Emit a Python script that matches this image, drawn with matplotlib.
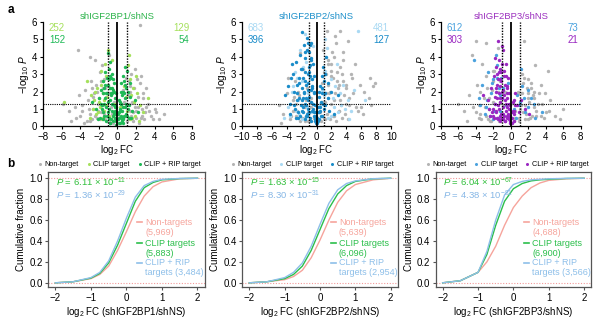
import matplotlib
matplotlib.use("Agg")
import matplotlib.pyplot as plt

plt.rcParams['font.family'] = ['Liberation Sans', 'DejaVu Sans']
plt.rcParams['mathtext.fontset'] = 'custom'
plt.rcParams['mathtext.rm'] = 'Liberation Sans'
plt.rcParams['mathtext.it'] = 'Liberation Sans:italic'
plt.rcParams['mathtext.bf'] = 'Liberation Sans:bold'

knockdowns = ['shIGF2BP1/shNS', 'shIGF2BP2/shNS', 'shIGF2BP3/shNS']
volcano_xlims = [8, 10, 8]

# volcano plot points: log2 FC, -log10 P
grey_x = [
    [-5.8, -5.2, -4.6, -4.1, -3.8, -3.5, -3.2, -3.0, -2.8, -2.6, -2.5, -2.3, -2.2, -2.0, -1.9, -1.8, -1.6, -1.5,
     -1.4, -1.3, -1.2, -1.7, -2.1, -2.7, -3.3, -4.0, -1.1, -0.8, -0.6, -0.4, 0.4, 0.6, 0.8, 1.1, 1.2, 1.3, 1.5,
     1.6, 1.8, 2.0, 2.2, 2.4, 2.6, 2.8, 3.0, 3.3, 3.6, 4.0, 4.5, 5.0, 1.4, 1.9, 2.5, 3.1, 1.7, 2.3, -1.6, -2.4,
     -3.6, 0.9, -0.9, 2.4, -4.2, -3.0,
     -2.9, -2.4, -1.9, -1.4, -0.9, -0.5, 0.5, 1.0, 1.5, 2.0, 2.5, 2.9, -2.6, -2.1, -1.6, -1.1, -0.7, 0.7, 1.2,
     1.7, 2.2, 2.7, -3.1, -2.2, -1.3, 1.3, 2.1, 3.4, -3.8, 3.8, -2.7, -1.8, 1.9, 2.6, -0.3, 0.3, -4.4, 4.2, -5.0,
     3.1],
    [-5.0, -4.5, -4.0, -3.6, -3.2, -2.9, -2.6, -2.3, -2.0, -1.8, -1.5, -1.3, -3.8, -2.2, -1.6, -4.8, -2.7, -1.1,
     -0.7, -0.4, 0.5, 0.8, 1.2, 1.5, 1.8, 2.1, 2.4, 2.7, 3.0, 3.3, 3.6, 4.0, 4.4, 4.8, 5.3, 5.8, 6.4, 7.0, 7.6,
     1.4, 1.9, 2.6, 3.2, 3.9, 4.6, 5.5, 1.1, 1.7, 2.3, 2.9, 3.5, 4.2, 0.9, 2.0, 3.0, 6.2, 7.3, -3.4, 1.3, 2.5,
     3.2, 7.2, 7.8,
     0.6, 1.0, 1.4, 1.8, 2.2, 2.6, 3.0, 3.4, 3.8, 4.2, 0.7, 1.3, 1.9, 2.5, 3.1, 3.7, 4.3, 4.9, 1.6, 2.2, 2.8,
     3.4, 4.0, 1.0, 1.5, 2.0, -1.2, -1.7, -2.2, -2.7, -3.2, -1.4, -2.0, -2.5, -3.0, -0.8, 5.2, 6.0, 2.4, 3.6],
    [-6.0, -5.4, -4.8, -4.3, -3.9, -3.5, -3.1, -2.8, -2.5, -2.2, -1.9, -1.6, -1.3, -3.3, -2.6, -4.5, -2.0, -1.1,
     -0.7, -5.0, -3.7, 0.5, 0.8, 1.1, 1.4, 1.7, 2.0, 2.3, 2.6, 2.9, 3.2, 3.6, 4.0, 4.5, 5.0, 5.6, 1.3, 1.9, 2.5,
     3.4, 4.2, 0.9, 1.6, 2.2, 2.8, -2.9, -3.6, -1.5, 6.0, 3.8, -2.3, 1.5, -4.0,
     -3.4, -2.9, -2.4, -1.9, -1.4, -0.9, 0.4, 0.9, 1.4, 1.9, 2.4, 2.9, 3.4, 0.6, 1.1, 1.6, 2.1, 2.6, 3.1, 0.8,
     1.3, 1.8, 2.3, -3.0, -2.5, -2.0, -1.5, -3.5, -2.7, -2.1, 1.5, 2.0, 2.7, -4.0, 3.9, -1.2, 0.5, 1.0, -0.8,
     4.4],
]
grey_y = [
    [1.3, 0.9, 1.1, 1.8, 1.2, 2.1, 1.5, 0.7, 2.6, 1.0, 1.9, 2.4, 0.5, 1.6, 3.1, 0.8, 2.2, 1.2, 2.7, 0.4, 1.7, 3.5,
     0.9, 0.4, 0.3, 0.6, 2.3, 1.9, 0.7, 1.4, 1.1, 2.1, 0.6, 1.8, 2.6, 0.9, 3.0, 1.4, 2.2, 0.5, 1.7, 2.5, 1.0, 1.6,
     0.8, 1.3, 0.6, 1.0, 0.4, 0.7, 2.0, 3.3, 2.9, 2.2, 0.3, 0.2, 0.5, 3.8, 0.2, 2.8, 4.1, 5.8, 4.4, 4.0,
     0.3, 0.6, 0.4, 0.7, 0.3, 0.2, 0.4, 0.3, 0.6, 0.9, 0.5, 0.4, 1.7, 1.3, 1.9, 1.2, 1.1, 1.4, 1.3, 0.8, 1.1,
     1.9, 1.0, 2.0, 2.2, 2.3, 2.7, 0.9, 0.9, 0.4, 2.2, 2.6, 1.1, 0.6, 0.4, 0.6, 0.5, 0.8, 0.3, 1.1],
    [1.2, 0.7, 1.9, 0.4, 1.5, 2.6, 0.9, 1.8, 0.5, 3.3, 1.1, 2.2, 2.8, 4.2, 0.3, 0.2, 1.3, 0.8, 1.6, 0.5, 0.8, 2.5,
     1.4, 3.6, 2.0, 4.3, 1.5, 3.1, 2.4, 1.2, 3.8, 2.2, 1.6, 2.8, 1.1, 2.4, 2.0, 1.6, 2.3, 5.5, 2.9, 4.8, 3.4, 1.3,
     3.0, 0.9, 0.4, 1.9, 0.6, 2.2, 2.6, 4.9, 4.4, 3.2, 0.9, 0.7, 1.2, 0.6, 3.0, 5.2, 5.5, 2.8, 2.5,
     0.3, 0.5, 0.7, 0.4, 0.6, 0.3, 0.9, 0.5, 0.7, 0.4, 1.4, 1.9, 1.3, 1.9, 1.5, 1.8, 1.2, 1.9, 2.4, 2.8, 2.6,
     3.0, 2.4, 3.1, 3.8, 3.6, 0.3, 0.5, 0.3, 0.6, 0.9, 1.5, 1.2, 2.0, 1.7, 1.1, 3.6, 1.1, 4.0, 4.3],
    [1.3, 0.9, 1.8, 1.1, 2.4, 0.7, 1.6, 2.9, 1.0, 2.1, 3.2, 0.5, 1.4, 3.6, 0.4, 4.1, 2.6, 0.8, 2.0, 0.3, 0.5, 0.9,
     1.9, 1.2, 2.5, 0.7, 1.6, 2.2, 1.1, 0.6, 1.9, 1.3, 0.8, 1.5, 0.6, 0.4, 3.0, 2.7, 1.8, 2.4, 3.2, 0.3, 0.4, 0.5,
     3.5, 4.8, 1.2, 4.5, 1.0, 0.5, 0.3, 4.9, 4.9,
     0.4, 0.6, 0.3, 0.5, 0.3, 0.4, 0.3, 0.5, 0.8, 0.4, 0.6, 0.9, 0.6, 1.2, 1.5, 1.2, 1.4, 1.6, 1.3, 2.0, 1.9,
     2.2, 2.5, 1.1, 1.6, 1.4, 2.0, 2.0, 2.2, 3.2, 2.8, 1.9, 2.0, 0.8, 1.9, 2.6, 0.5, 1.0, 1.2, 0.9],
]
clip_x = [
    [-3.3, -2.8, -2.5, -2.2, -2.0, -1.8, -1.6, -1.5, -1.3, -1.2, -1.1, -1.9, -2.3, -1.4, -0.8, -0.6, -0.5, -0.3,
     0.3, 0.5, 0.7, 1.1, 1.3, 1.5, 1.8, 2.1, 2.4, 2.8, 3.3, 1.2, 1.6, -1.7, -2.6, -5.7, -1.0, 0.9, 2.0,
     -2.1, -1.6, -1.2, -0.9, 1.0, 1.4, 1.9, -2.4, -1.8, -1.4, 1.7, 2.3, -3.0, -0.7],
    [-3.8, -3.3, -2.9, -2.5, -2.2, -1.9, -1.6, -1.4, -1.2, -2.7, -1.8, -3.1, -0.8, -0.5, 0.5, 0.8, 1.2, 1.5, 1.9,
     2.3, 2.7, 3.1, 3.6, 4.2, 5.0, 5.6, 1.4, 2.0, 2.5, 3.3, -1.5, -2.4, 1.1, -4.3, 4.6,
     -2.0, -1.3, -0.9, 1.6, 2.2, 2.9, 3.8, 4.4, -3.5, -2.6, 1.0, 6.5],
    [-4.2, -3.7, -3.3, -2.9, -2.6, -2.3, -2.0, -1.8, -1.6, -1.4, -1.2, -1.0, -2.4, -3.0, -1.7, -1.1, -0.6, -0.3,
     0.4, 0.7, 1.0, 1.3, 1.6, 1.9, 2.3, 2.8, 3.6, 1.2, -2.1, -1.5,
     -2.7, -2.2, -1.9, -1.3, -0.9, 0.6, 0.9, 1.5, 2.0, 2.6, -3.5, -1.6],
]
clip_y = [
    [2.6, 1.8, 1.5, 2.2, 1.4, 3.2, 2.6, 1.9, 3.6, 2.9, 1.7, 1.1, 0.7, 0.9, 2.2, 3.8, 0.6, 1.3, 1.1, 0.5, 2.3, 3.5,
     2.7, 1.8, 1.4, 1.9, 1.2, 0.8, 1.6, 4.1, 0.5, 0.4, 1.0, 1.4, 4.4, 1.7, 2.9,
     0.8, 0.5, 1.2, 0.6, 0.9, 0.4, 0.6, 2.0, 2.4, 1.5, 2.2, 0.3, 0.5, 0.4],
    [1.1, 2.0, 3.1, 1.5, 4.4, 2.6, 5.3, 3.7, 1.9, 0.9, 3.4, 2.3, 0.8, 4.6, 1.3, 2.1, 3.2, 1.6, 2.7, 1.1, 3.6, 1.9,
     2.4, 1.5, 2.1, 5.5, 4.5, 0.6, 2.3, 1.2, 0.5, 0.7, 5.0, 0.5, 0.9,
     0.4, 1.1, 2.7, 0.5, 1.6, 0.8, 1.0, 0.4, 0.6, 2.8, 1.8, 1.5],
    [3.8, 1.6, 2.4, 1.1, 3.1, 1.9, 2.7, 1.3, 3.5, 2.2, 0.9, 1.6, 0.6, 0.7, 4.1, 2.8, 1.2, 2.5, 1.0, 1.8, 1.4, 2.3,
     0.8, 1.1, 1.6, 0.5, 0.8, 3.3, 0.4, 0.5,
     1.5, 2.5, 0.9, 1.8, 2.2, 0.5, 1.2, 1.6, 2.1, 1.3, 1.2, 2.8],
]
rip_x = [
    [-2.3, -2.0, -1.8, -1.6, -1.5, -1.4, -1.3, -1.2, -1.1, -1.0, -0.9, -0.8, -0.7, -0.6, -0.5, -0.4, -0.3, -0.2,
     -0.1, 0.1, 0.2, 0.3, 0.4, 0.5, 0.6, 0.7, 0.8, 0.9, 1.0, 1.1, 1.2, 1.4, 1.6, 1.9, -1.2, -0.9, -0.7, -0.5,
     -0.3, -0.8, -0.6, -0.4, -1.0, -1.5, -0.2, 0.3, 0.5, 0.7, 0.9, 0.4, 0.6, 0.8, 1.2, -0.15, 0.15, -0.45, 0.45,
     -0.25, 0.25, -0.65, 0.65, -1.05, -1.7, -0.85, -0.55, -0.35, 0.35, 0.55, 0.85, 1.3, -2.7, 2.2, -1.3, -0.95,
     -0.75,
     -1.9, -1.7, -1.4, -1.2, -1.0, -0.8, -0.6, -0.4, -0.2, 0.2, 0.4, 0.6, 0.8, 1.0, -1.6, -1.3, -1.1, -0.9, -0.7,
     -0.5, -0.3, -0.1, 0.1, 0.3, 0.5, 0.7, 0.9, 1.1, -1.4, -1.1, -0.8, -0.6, -0.4, -0.2, 0.2, 0.4, 0.6, -2.1,
     -1.8, 1.5],
    [-4.2, -3.8, -3.5, -3.2, -3.0, -2.8, -2.6, -2.4, -2.2, -2.0, -1.9, -1.8, -1.7, -1.6, -1.5, -1.4, -1.3, -1.2,
     -1.1, -1.0, -0.9, -0.8, -0.7, -0.6, -0.5, -0.4, -0.3, -0.2, -0.1, 0.1, 0.2, 0.3, 0.4, 0.5, 0.6, 0.7, 0.8, 0.9,
     1.0, 1.1, 1.3, 1.5, 1.7, 2.0, 2.4, -3.6, -2.9, -2.5, -2.1, -1.75, -1.45, -1.15, -0.85, -0.55, -0.25, -2.3,
     -1.95, -1.65, -1.35, -1.05, -0.75, -0.45, -0.15, 0.25, 0.45, 0.65, 0.85, 1.2, -1.25, -0.95, -0.65, -0.35,
     -1.55, -2.65, -3.3, 1.6, 2.9, -0.05, 0.05, 0.35, -1.85,
     -2.8, -2.5, -2.2, -1.9, -1.6, -1.3, -1.0, -0.7, -0.4, -2.6, -2.3, -2.0, -1.7, -1.4, -1.1, -0.8, -0.5, -0.2,
     -2.1, -1.8, -1.5, -1.2, -0.9, -0.6, -0.3, -1.6, -1.3, -1.0, -0.7, -1.2, -0.9, 0.2, 0.5, 0.8, 1.1, 0.4, 0.7,
     1.0, -3.0, -3.4],
    [-2.6, -2.3, -2.1, -1.9, -1.8, -1.7, -1.6, -1.5, -1.4, -1.3, -1.2, -1.1, -1.0, -0.9, -0.8, -0.7, -0.6, -0.5,
     -0.4, -0.3, -0.2, -0.1, 0.1, 0.2, 0.3, 0.4, 0.5, 0.7, 0.9, 1.2, 1.6, -2.0, -1.75, -1.55, -1.35, -1.15,
     -0.95, -0.75, -0.55, -0.35, -0.15, -1.85, -1.45, -1.05, -0.65, -0.25, -1.25, -0.85, -0.45, 0.15, 0.35, -2.4,
     -3.2, -1.65, -0.05, 0.05, 2.1, -1.0,
     -1.9, -1.7, -1.5, -1.3, -1.1, -0.9, -0.7, -0.5, -0.3, -1.8, -1.6, -1.4, -1.2, -1.0, -0.8, -0.6, -0.4, -0.2,
     -1.5, -1.3, -1.1, -0.9, -0.7, -0.5, -1.6, -1.2, -0.8, -0.6, -1.0, -1.4, 0.1, 0.3, 0.5, 0.2, -2.2, -2.5,
     -0.4, -0.2, -0.1, -1.7],
]
rip_y = [
    [1.0, 1.6, 2.1, 0.8, 2.6, 1.3, 3.1, 1.9, 0.6, 2.4, 3.3, 1.5, 2.8, 0.9, 2.1, 1.2, 0.5, 1.1, 0.3, 0.4, 0.8, 1.4,
     0.6, 1.8, 1.1, 2.6, 1.6, 0.7, 3.2, 2.0, 1.2, 1.7, 0.9, 1.5, 0.3, 0.5, 0.4, 0.3, 1.6, 3.7, 3.0, 2.5, 1.4, 0.4,
     0.7, 0.2, 0.9, 0.6, 2.2, 2.0, 2.9, 3.4, 0.5, 0.1, 0.2, 0.6, 0.3, 0.9, 1.0, 1.8, 0.5, 4.2, 1.2, 2.2, 1.3, 0.8,
     1.3, 0.2, 1.1, 2.5, 1.4, 0.8, 2.4, 1.0, 0.2,
     0.5, 1.0, 0.6, 1.1, 0.8, 0.2, 1.9, 0.7, 0.4, 0.5, 1.3, 0.4, 2.4, 0.6, 1.9, 1.6, 2.8, 2.7, 1.9, 2.7, 1.1, 0.8,
     0.7, 0.9, 0.4, 1.9, 1.3, 1.0, 2.2, 1.9, 2.9, 2.2, 2.0, 1.9, 1.5, 2.5, 2.0, 0.4, 1.3, 0.5],
    [1.8, 2.3, 1.3, 3.0, 2.0, 3.7, 1.5, 2.8, 4.1, 2.2, 3.3, 1.1, 4.7, 2.6, 3.9, 1.6, 5.1, 3.0, 2.1, 4.3, 3.5, 1.4,
     4.8, 2.7, 3.6, 1.9, 2.9, 1.2, 0.6, 0.5, 1.1, 1.7, 0.8, 2.3, 1.4, 2.9, 1.9, 3.4, 2.6, 1.2, 4.0, 1.6, 0.9, 2.0,
     0.7, 0.7, 1.0, 0.5, 1.2, 0.8, 0.6, 1.0, 0.5, 0.9, 0.4, 2.5, 5.4, 2.0, 2.4, 3.1, 3.8, 1.0, 0.3, 0.3, 0.9, 0.6,
     1.3, 3.0, 0.7, 1.7, 2.2, 0.8, 1.3, 2.4, 3.6, 2.5, 1.8, 0.2, 0.2, 0.4, 1.6,
     0.5, 0.8, 0.6, 0.9, 0.4, 0.6, 0.8, 0.3, 0.6, 1.9, 1.6, 1.5, 1.9, 1.2, 1.5, 2.1, 1.3, 0.8, 3.3, 2.8, 3.1, 2.5,
     2.9, 2.3, 2.0, 4.3, 4.4, 3.4, 3.9, 4.8, 4.7, 0.8, 1.1, 0.6, 1.9, 2.0, 2.2, 1.0, 1.2, 2.8],
    [1.5, 2.2, 1.0, 2.9, 1.7, 3.4, 2.4, 1.2, 3.8, 2.7, 1.6, 3.1, 2.0, 4.4, 2.9, 1.5, 3.6, 2.3, 1.1, 2.8, 1.3, 0.6,
     0.5, 0.9, 1.5, 0.7, 1.9, 1.2, 0.8, 1.5, 1.0, 0.6, 0.9, 0.5, 1.0, 0.7, 1.1, 0.6, 0.9, 0.5, 0.3, 3.9, 4.9, 0.4,
     0.3, 0.4, 0.3, 0.4, 0.5, 0.2, 0.3, 0.6, 1.8, 2.0, 0.2, 0.2, 0.7, 4.6,
     0.5, 0.8, 0.4, 0.6, 0.4, 0.7, 0.3, 0.6, 0.7, 1.3, 1.6, 1.9, 1.4, 1.6, 1.8, 1.3, 1.6, 1.0, 2.7, 2.3, 2.6, 2.1,
     2.4, 1.9, 3.0, 3.3, 3.2, 2.9, 3.6, 3.1, 0.8, 0.9, 1.2, 1.4, 0.8, 1.0, 2.2, 1.9, 1.2, 2.2],
]

# significant gene counts (down-left / up-right)
clip_counts = [(252, 129), (683, 481), (612, 73)]
rip_counts = [(152, 54), (396, 127), (303, 21)]

# cumulative distributions of log2 FC
cdf_x = [-2.0, -1.5, -1.0, -0.75, -0.5, -0.25, 0.0, 0.25, 0.5, 0.75, 1.0, 1.5, 2.0]
cdf_non = [
    [0.0, 0.01, 0.04, 0.08, 0.16, 0.31, 0.49, 0.68, 0.83, 0.92, 0.965, 0.995, 1.0],
    [0.0, 0.01, 0.03, 0.06, 0.12, 0.24, 0.41, 0.60, 0.77, 0.88, 0.94, 0.985, 1.0],
    [0.0, 0.02, 0.10, 0.20, 0.35, 0.55, 0.72, 0.83, 0.91, 0.955, 0.98, 0.995, 1.0],
]
cdf_clip = [
    [0.0, 0.01, 0.045, 0.09, 0.19, 0.36, 0.57, 0.78, 0.91, 0.96, 0.985, 0.997, 1.0],
    [0.0, 0.01, 0.04, 0.08, 0.16, 0.31, 0.51, 0.71, 0.85, 0.93, 0.97, 0.995, 1.0],
    [0.0, 0.02, 0.10, 0.27, 0.55, 0.78, 0.90, 0.95, 0.975, 0.985, 0.99, 0.998, 1.0],
]
cdf_rip = [
    [0.0, 0.01, 0.05, 0.10, 0.21, 0.40, 0.62, 0.82, 0.93, 0.97, 0.99, 0.998, 1.0],
    [0.0, 0.01, 0.05, 0.10, 0.19, 0.35, 0.56, 0.76, 0.89, 0.95, 0.975, 0.996, 1.0],
    [0.0, 0.02, 0.10, 0.30, 0.60, 0.84, 0.94, 0.97, 0.985, 0.99, 0.995, 0.999, 1.0],
]
p_clip = [r'6.11 $\times$ 10$^{-11}$', r'1.63 $\times$ 10$^{-15}$', r'6.04 $\times$ 10$^{-67}$']
p_rip = [r'1.36 $\times$ 10$^{-29}$', r'8.30 $\times$ 10$^{-31}$', r'4.38 $\times$ 10$^{-81}$']
n_non = ['5,969', '5,639', '4,688']
n_clip = ['5,883', '6,096', '6,900']
n_rip = ['3,484', '2,954', '3,566']

# colours per knockdown: title, CLIP target, CLIP + RIP target
title_col = ['#2bb34a', '#1c8fca', '#9b2fbf']
clip_col = ['#a5e05c', '#a9d9f3', '#4aa2de']
rip_col = ['#1fb956', '#1a8cc9', '#9a27c1']
grey = '#b4b4b4'

c_non, c_clip, c_rip = '#f6a49c', '#2bbf4b', '#8dbfe9'

fig = plt.figure(figsize=(6.0, 3.23), dpi=100)

top_pos = [[0.0717, 0.609, 0.248, 0.323], [0.403, 0.609, 0.249, 0.323], [0.735, 0.609, 0.233, 0.323]]
bot_pos = [[0.0805, 0.1115, 0.2605, 0.356], [0.4038, 0.1115, 0.2592, 0.356], [0.726, 0.1115, 0.2593, 0.356]]
legend_cx = [0.197, 0.518, 0.843]

for i in range(3):
    # volcano
    ax = fig.add_axes(top_pos[i])
    h0 = ax.scatter(grey_x[i], grey_y[i], s=6, c=grey, lw=0)
    h1 = ax.scatter(clip_x[i], clip_y[i], s=6, c=clip_col[i], lw=0)
    h2 = ax.scatter(rip_x[i], rip_y[i], s=6, c=rip_col[i], lw=0)
    ax.axvline(0, color='black', lw=1.3)
    for v in (-1, 1):
        ax.axvline(v, color='black', lw=1.0, ls=(0, (1, 1)))
    ax.axhline(1.301, color='black', lw=0.8, ls=(0, (1, 1)))
    lim = volcano_xlims[i]
    ax.set_xlim(-lim, lim)
    ax.set_ylim(0, 6)
    ax.set_xticks(range(-lim, lim + 1, 2))
    ax.set_yticks(range(0, 7))
    ax.set_xticklabels([str(t).replace('-', '\u2212') for t in range(-lim, lim + 1, 2)])
    for s in ('top', 'right'):
        ax.spines[s].set_visible(False)
    for s in ('left', 'bottom'):
        ax.spines[s].set_linewidth(0.9)
    ax.tick_params(labelsize=7, length=2.5, width=0.8, pad=1.5)
    ax.set_title(knockdowns[i], color=title_col[i], fontsize=6.8, pad=2)
    ax.set_xlabel(r'log$_2$ FC', fontsize=7, labelpad=1)
    ax.set_ylabel(r'$-$log$_{10}$ $P$', fontsize=7.2, labelpad=1)
    ax.text(0.04, 0.94, str(clip_counts[i][0]), color=clip_col[i], fontsize=7, transform=ax.transAxes, va='center')
    ax.text(0.04, 0.83, str(rip_counts[i][0]), color=rip_col[i], fontsize=7, transform=ax.transAxes, va='center')
    ax.text(0.985, 0.94, str(clip_counts[i][1]), color=clip_col[i], fontsize=7, transform=ax.transAxes,
            va='center', ha='right')
    ax.text(0.985, 0.83, str(rip_counts[i][1]), color=rip_col[i], fontsize=7, transform=ax.transAxes,
            va='center', ha='right')
    fig.legend([h0, h1, h2], ['Non-target', 'CLIP target', 'CLIP + RIP target'], loc='center',
               bbox_to_anchor=(legend_cx[i], 0.492), ncol=3, frameon=False, fontsize=5.2,
               markerscale=0.9, handletextpad=0.0, columnspacing=0.8, handlelength=1.2, borderpad=0)

    # cumulative fraction
    bx = fig.add_axes(bot_pos[i])
    for yv in (0, 1):
        bx.axhline(yv, color='#f29a9a', lw=0.8, ls=(0, (1, 1.5)))
    bx.plot(cdf_x, cdf_non[i], color=c_non, lw=1.0)
    bx.plot(cdf_x, cdf_clip[i], color=c_clip, lw=1.0)
    bx.plot(cdf_x, cdf_rip[i], color=c_rip, lw=1.0)
    bx.set_xlim(-2.2, 2.2)
    bx.set_ylim(-0.04, 1.06)
    bx.set_xticks([-2, -1, 0, 1, 2])
    bx.set_xticklabels(['\u22122', '\u22121', '0', '1', '2'])
    bx.set_yticks([0, 0.2, 0.4, 0.6, 0.8, 1.0])
    bx.set_yticklabels(['0.0', '0.2', '0.4', '0.6', '0.8', '1.0'])
    for s in bx.spines.values():
        s.set_linewidth(0.9)
        s.set_color('#555555')
    bx.tick_params(labelsize=7, length=2.5, width=0.8, pad=1.5, color='#555555')
    bx.set_xlabel(r'log$_2$ FC (' + knockdowns[i] + ')', fontsize=7, labelpad=2)
    bx.set_ylabel('Cumulative fraction', fontsize=7, labelpad=2)
    bx.text(-1.98, 0.96, r'$P$ = ' + p_clip[i], color='#2fbf3a', fontsize=6.8, va='center')
    bx.text(-1.98, 0.835, r'$P$ = ' + p_rip[i], color='#86b7e6', fontsize=6.8, va='center')
    x0 = 0.3
    for (lab1, lab2, col, y1) in [('Non-targets', '(' + n_non[i] + ')', c_non, 0.58),
                                  ('CLIP targets', '(' + n_clip[i] + ')', c_clip, 0.38),
                                  ('CLIP + RIP', 'targets (' + n_rip[i] + ')', c_rip, 0.19)]:
        bx.plot([x0, x0 + 0.15], [y1, y1], color=col, lw=1.2)
        bx.text(x0 + 0.23, y1, lab1, color=col, fontsize=6.5, va='center')
        bx.text(x0 + 0.23, y1 - 0.095, lab2, color=col, fontsize=6.5, va='center')

fig.text(0.012, 0.97, 'a', fontsize=8.5, fontweight='bold', va='center')
fig.text(0.012, 0.492, 'b', fontsize=8.5, fontweight='bold', va='center')

fig.savefig('out.png', dpi=100)
